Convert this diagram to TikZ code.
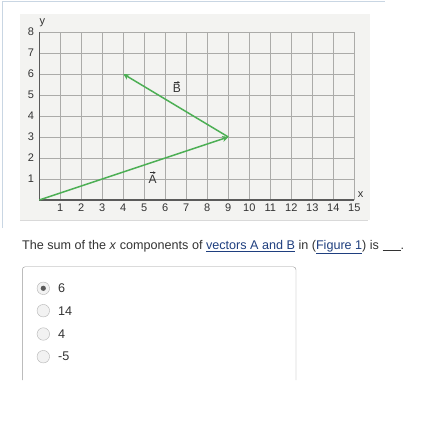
\documentclass[tikz,border=0pt]{standalone}
\usepackage{fontspec}
\setmainfont{Liberation Sans}
\setsansfont{Liberation Sans}
\usetikzlibrary{arrows.meta}

\definecolor{paper}{HTML}{F3F3F1}
\definecolor{gridgray}{HTML}{ABABA9}
\definecolor{axisgray}{HTML}{5A5A5A}
\definecolor{vecgreen}{HTML}{4DAF55}
\definecolor{framblue}{HTML}{C9D6E3}
\definecolor{txtgray}{HTML}{333333}
\definecolor{linkblue}{HTML}{1F3F7F}
\definecolor{radiogray}{HTML}{B4B4B4}

\tikzset{
  vec/.style={line width=1.5pt, vecgreen, -{Stealth[length=6pt,width=6pt]}},
  ticklbl/.style={font=\fontsize{11}{12}\selectfont, text=black!80, inner sep=0pt},
  veclbl/.style={font=\fontsize{12}{13}\selectfont, text=black!80, inner sep=0pt},
  hat/.style={black!80, semithick, -{Stealth[length=2.5pt,width=2.5pt]}},
  radio/.style={circle, draw=radiogray, fill=black!5, minimum size=12.5pt, inner sep=0pt},
  choice/.style={anchor=west, font=\fontsize{12.6}{14}\selectfont, text=txtgray, inner sep=0pt}
}

\begin{document}
\begin{tikzpicture}[x=1pt, y=-1pt]
		%%%%% START %%%%%
		\useasboundingbox[fill=white] (0,0) rectangle (440,432);
		
		% frame and paper
		\draw[framblue, thick] (2,228) -- (2,1) -- (385,1);
		\fill[paper] (20,14) rectangle (370,220);
		\draw[black!15] (20,220) -- (368,220);
		
		\begin{scope}[shift={(39.3,200)}, x=21pt, y=21pt]
		\foreach \i in {1,...,15}
		  \draw[gridgray, line width=1pt] (\i,0) -- (\i,8);
		\foreach \j in {1,...,8}
		  \draw[gridgray, line width=1pt] (0,\j) -- (15,\j);
		\draw[axisgray, line width=1.6pt] (0,8) -- (0,0) -- (15,0);
		
		\foreach \i in {1,...,8}
		  \node[ticklbl] (ylbl\i) at (-0.4,\i) {\i};
		\foreach \i in {1,...,15}
		  \node[ticklbl] (xlbl\i) at (\i,-0.38) {\i};
		\node[ticklbl] (ylab) at (0.15,8.42) {y};
		\node[ticklbl] (xlab) at (15.3,0.25) {x};
		
		\coordinate (O) at (0,0);
		\coordinate (P) at (9,3);
		\coordinate (Q) at (4,6);
		\draw[vec] (O) -- (P);
		\draw[vec] (P) -- (Q);
		\node[veclbl] (labA) at (5.4,1.0) {A};
		\node[veclbl] (labB) at (6.55,5.3) {B};
		\draw[hat] ([xshift=-3pt,yshift=2pt]labA.north) -- ([xshift=3pt,yshift=2pt]labA.north);
		\draw[hat] ([xshift=-3pt,yshift=2pt]labB.north) -- ([xshift=3pt,yshift=2pt]labB.north);
		\end{scope}
		
		% question
		\node[anchor=west, inner sep=0pt, text=txtgray, font=\fontsize{12.6}{14}\selectfont] (question) at (22,247)
		  {The sum of the \textit{x} components of \textcolor{linkblue}{\underline{vectors A and B}} in (\textcolor{linkblue}{\underline{Figure 1}}) is \underline{\hspace{18pt}}.};
		
		% answer box
		\draw[black!40, rounded corners=3pt] (22.3,380) -- (22.3,266.7) -- (296,266.7) -- (296,380);
		
		\node[radio] (r1) at (43.3,288.3) {};
		\fill[axisgray] (r1) circle (2.6pt);
		\node[radio] (r2) at (43.3,310.7) {};
		\node[radio] (r3) at (43.3,334) {};
		\node[radio] (r4) at (43.3,356.7) {};
		\node[choice] (c1) at (58,288.3) {6};
		\node[choice] (c2) at (58,310.7) {14};
		\node[choice] (c3) at (58,334) {4};
		\node[choice] (c4) at (58,356.7) {-5};
		%%%%% END %%%%%
\end{tikzpicture}
\end{document}
